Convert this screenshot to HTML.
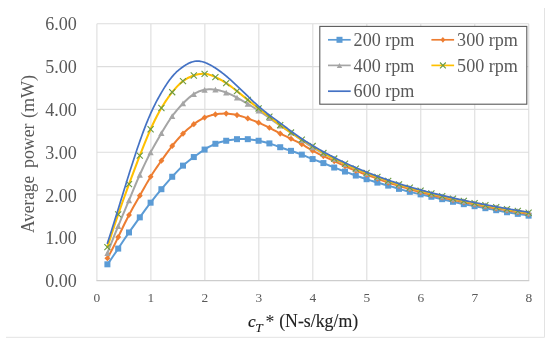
<!DOCTYPE html>
<html lang="en"><head><meta charset="utf-8"><title>Average power vs damping</title>
<style>html,body{margin:0;padding:0;background:#fff;}body{width:550px;height:343px;overflow:hidden;}</style></head>
<body>
<svg width="550" height="343" viewBox="0 0 550 343" style="display:block">
<rect x="0" y="0" width="550" height="343" fill="#ffffff"/>
<path d="M6 337.3 H544.5 V8" fill="none" stroke="#E3E3E3" stroke-width="1"/>
<path d="M96.90 23.81V280.55M150.88 23.81V280.55M204.86 23.81V280.55M258.84 23.81V280.55M312.82 23.81V280.55M366.80 23.81V280.55M420.78 23.81V280.55M474.76 23.81V280.55M528.74 23.81V280.55M96.90 237.76H528.74M96.90 194.97H528.74M96.90 152.18H528.74M96.90 109.39H528.74M96.90 66.60H528.74M96.90 23.81H528.74" fill="none" stroke="#DDDDDD" stroke-width="1.1"/>
<path d="M96.40 280.55H529.24" fill="none" stroke="#CDCDCD" stroke-width="1.25"/>
<polyline points="107.40,264.31 109.56,261.30 111.72,258.20 113.88,255.04 116.04,251.82 118.20,248.58 120.36,245.32 122.52,242.06 124.68,238.82 126.84,235.62 129.00,232.46 131.16,229.37 133.32,226.33 135.48,223.33 137.64,220.35 139.80,217.37 141.96,214.39 144.12,211.41 146.28,208.45 148.44,205.53 150.60,202.67 152.76,199.86 154.92,197.12 157.08,194.43 159.24,191.80 161.40,189.20 163.56,186.64 165.72,184.12 167.88,181.63 170.04,179.18 172.20,176.76 174.36,174.38 176.52,172.06 178.68,169.82 180.84,167.67 183.00,165.64 185.16,163.75 187.32,161.96 189.48,160.27 191.64,158.64 193.80,157.05 195.96,155.49 198.12,153.94 200.28,152.44 202.44,150.98 204.60,149.57 206.76,148.23 208.92,146.96 211.08,145.80 213.24,144.74 215.40,143.80 217.56,143.00 219.72,142.31 221.88,141.73 224.04,141.22 226.20,140.76 228.36,140.35 230.52,139.98 232.68,139.66 234.84,139.39 237.00,139.18 239.16,139.04 241.32,138.97 243.48,138.97 245.64,139.04 247.80,139.18 249.96,139.39 252.12,139.66 254.28,139.99 256.44,140.36 258.60,140.76 260.76,141.20 262.92,141.68 265.08,142.20 267.24,142.78 269.40,143.41 271.56,144.12 273.72,144.87 275.88,145.65 278.04,146.44 280.20,147.22 282.36,147.98 284.52,148.71 286.68,149.43 288.84,150.14 291.00,150.85 293.16,151.57 295.32,152.30 297.48,153.05 299.64,153.84 301.80,154.66 303.96,155.52 306.12,156.41 308.28,157.31 310.44,158.20 312.60,159.06 314.76,159.88 316.92,160.68 319.08,161.46 321.24,162.26 323.40,163.08 325.56,163.94 327.72,164.84 329.88,165.75 332.04,166.65 334.20,167.53 336.36,168.37 338.52,169.18 340.68,169.97 342.84,170.75 345.00,171.54 347.16,172.35 349.32,173.16 351.48,173.98 353.64,174.78 355.80,175.56 357.96,176.32 360.12,177.06 362.28,177.78 364.44,178.49 366.60,179.20 368.76,179.90 370.92,180.61 373.08,181.30 375.24,181.97 377.40,182.62 379.56,183.23 381.72,183.83 383.88,184.41 386.04,185.00 388.20,185.61 390.36,186.24 392.52,186.89 394.68,187.55 396.84,188.21 399.00,188.86 401.16,189.50 403.32,190.11 405.48,190.71 407.64,191.29 409.80,191.85 411.96,192.38 414.12,192.90 416.28,193.40 418.44,193.89 420.60,194.37 422.76,194.86 424.92,195.34 427.08,195.82 429.24,196.29 431.40,196.77 433.56,197.24 435.72,197.71 437.88,198.18 440.04,198.66 442.20,199.16 444.36,199.67 446.52,200.19 448.68,200.72 450.84,201.25 453.00,201.77 455.16,202.28 457.32,202.77 459.48,203.26 461.64,203.72 463.80,204.16 465.96,204.59 468.12,204.99 470.28,205.39 472.44,205.78 474.60,206.17 476.76,206.57 478.92,206.97 481.08,207.37 483.24,207.78 485.40,208.18 487.56,208.58 489.72,208.98 491.88,209.37 494.04,209.78 496.20,210.19 498.36,210.61 500.52,211.04 502.68,211.45 504.84,211.86 507.00,212.24 509.16,212.60 511.32,212.93 513.48,213.25 515.64,213.56 517.80,213.87 519.96,214.18 522.12,214.51 524.28,214.86 526.44,215.24 528.60,215.66" fill="none" stroke="#5B9BD5" stroke-width="2.0" stroke-linejoin="round" stroke-linecap="round"/>
<rect x="104.40" y="261.31" width="6.00" height="6.00" fill="#5B9BD5"/><rect x="115.20" y="245.58" width="6.00" height="6.00" fill="#5B9BD5"/><rect x="126.00" y="229.46" width="6.00" height="6.00" fill="#5B9BD5"/><rect x="136.80" y="214.37" width="6.00" height="6.00" fill="#5B9BD5"/><rect x="147.60" y="199.67" width="6.00" height="6.00" fill="#5B9BD5"/><rect x="158.40" y="186.20" width="6.00" height="6.00" fill="#5B9BD5"/><rect x="169.20" y="173.76" width="6.00" height="6.00" fill="#5B9BD5"/><rect x="180.00" y="162.64" width="6.00" height="6.00" fill="#5B9BD5"/><rect x="190.80" y="154.05" width="6.00" height="6.00" fill="#5B9BD5"/><rect x="201.60" y="146.57" width="6.00" height="6.00" fill="#5B9BD5"/><rect x="212.40" y="140.80" width="6.00" height="6.00" fill="#5B9BD5"/><rect x="223.20" y="137.76" width="6.00" height="6.00" fill="#5B9BD5"/><rect x="234.00" y="136.18" width="6.00" height="6.00" fill="#5B9BD5"/><rect x="244.80" y="136.18" width="6.00" height="6.00" fill="#5B9BD5"/><rect x="255.60" y="137.76" width="6.00" height="6.00" fill="#5B9BD5"/><rect x="266.40" y="140.41" width="6.00" height="6.00" fill="#5B9BD5"/><rect x="277.20" y="144.22" width="6.00" height="6.00" fill="#5B9BD5"/><rect x="288.00" y="147.85" width="6.00" height="6.00" fill="#5B9BD5"/><rect x="298.80" y="151.66" width="6.00" height="6.00" fill="#5B9BD5"/><rect x="309.60" y="156.06" width="6.00" height="6.00" fill="#5B9BD5"/><rect x="320.40" y="160.08" width="6.00" height="6.00" fill="#5B9BD5"/><rect x="331.20" y="164.53" width="6.00" height="6.00" fill="#5B9BD5"/><rect x="342.00" y="168.54" width="6.00" height="6.00" fill="#5B9BD5"/><rect x="352.80" y="172.56" width="6.00" height="6.00" fill="#5B9BD5"/><rect x="363.60" y="176.20" width="6.00" height="6.00" fill="#5B9BD5"/><rect x="374.40" y="179.62" width="6.00" height="6.00" fill="#5B9BD5"/><rect x="385.20" y="182.61" width="6.00" height="6.00" fill="#5B9BD5"/><rect x="396.00" y="185.86" width="6.00" height="6.00" fill="#5B9BD5"/><rect x="406.80" y="188.85" width="6.00" height="6.00" fill="#5B9BD5"/><rect x="417.60" y="191.37" width="6.00" height="6.00" fill="#5B9BD5"/><rect x="428.40" y="193.77" width="6.00" height="6.00" fill="#5B9BD5"/><rect x="439.20" y="196.16" width="6.00" height="6.00" fill="#5B9BD5"/><rect x="450.00" y="198.77" width="6.00" height="6.00" fill="#5B9BD5"/><rect x="460.80" y="201.16" width="6.00" height="6.00" fill="#5B9BD5"/><rect x="471.60" y="203.17" width="6.00" height="6.00" fill="#5B9BD5"/><rect x="482.40" y="205.18" width="6.00" height="6.00" fill="#5B9BD5"/><rect x="493.20" y="207.19" width="6.00" height="6.00" fill="#5B9BD5"/><rect x="504.00" y="209.24" width="6.00" height="6.00" fill="#5B9BD5"/><rect x="514.80" y="210.87" width="6.00" height="6.00" fill="#5B9BD5"/><rect x="525.60" y="212.66" width="6.00" height="6.00" fill="#5B9BD5"/>
<polyline points="107.40,258.24 109.56,254.36 111.72,250.26 113.88,245.98 116.04,241.57 118.20,237.08 120.36,232.55 122.52,228.03 124.68,223.56 126.84,219.20 129.00,214.98 131.16,210.94 133.32,207.03 135.48,203.22 137.64,199.45 139.80,195.66 141.96,191.81 144.12,187.95 146.28,184.12 148.44,180.38 150.60,176.76 152.76,173.31 154.92,170.01 157.08,166.82 159.24,163.71 161.40,160.64 163.56,157.60 165.72,154.58 167.88,151.62 170.04,148.73 172.20,145.94 174.36,143.25 176.52,140.68 178.68,138.23 180.84,135.89 183.00,133.67 185.16,131.56 187.32,129.56 189.48,127.68 191.64,125.90 193.80,124.22 195.96,122.64 198.12,121.18 200.28,119.84 202.44,118.64 204.60,117.59 206.76,116.70 208.92,115.96 211.08,115.34 213.24,114.84 215.40,114.43 217.56,114.10 219.72,113.85 221.88,113.69 224.04,113.61 226.20,113.62 228.36,113.72 230.52,113.91 232.68,114.19 234.84,114.56 237.00,115.03 239.16,115.59 241.32,116.22 243.48,116.92 245.64,117.67 247.80,118.45 249.96,119.25 252.12,120.07 254.28,120.91 256.44,121.78 258.60,122.68 260.76,123.61 262.92,124.58 265.08,125.58 267.24,126.63 269.40,127.73 271.56,128.87 273.72,130.04 275.88,131.22 278.04,132.40 280.20,133.54 282.36,134.64 284.52,135.69 286.68,136.72 288.84,137.74 291.00,138.75 293.16,139.78 295.32,140.83 297.48,141.91 299.64,143.04 301.80,144.23 303.96,145.48 306.12,146.78 308.28,148.09 310.44,149.39 312.60,150.64 314.76,151.82 316.92,152.94 319.08,154.02 321.24,155.05 323.40,156.07 325.56,157.07 327.72,158.07 329.88,159.07 332.04,160.07 334.20,161.07 336.36,162.08 338.52,163.10 340.68,164.12 342.84,165.12 345.00,166.11 347.16,167.09 349.32,168.03 351.48,168.96 353.64,169.86 355.80,170.73 357.96,171.58 360.12,172.40 362.28,173.20 364.44,173.98 366.60,174.75 368.76,175.51 370.92,176.27 373.08,177.03 375.24,177.80 377.40,178.60 379.56,179.42 381.72,180.25 383.88,181.07 386.04,181.87 388.20,182.62 390.36,183.31 392.52,183.95 394.68,184.57 396.84,185.19 399.00,185.82 401.16,186.49 403.32,187.18 405.48,187.88 407.64,188.57 409.80,189.24 411.96,189.89 414.12,190.50 416.28,191.10 418.44,191.67 420.60,192.24 422.76,192.79 424.92,193.34 427.08,193.89 429.24,194.42 431.40,194.95 433.56,195.48 435.72,196.00 437.88,196.51 440.04,197.02 442.20,197.52 444.36,198.02 446.52,198.51 448.68,198.99 450.84,199.47 453.00,199.95 455.16,200.42 457.32,200.88 459.48,201.34 461.64,201.79 463.80,202.24 465.96,202.69 468.12,203.13 470.28,203.56 472.44,203.99 474.60,204.42 476.76,204.84 478.92,205.26 481.08,205.67 483.24,206.08 485.40,206.48 487.56,206.89 489.72,207.28 491.88,207.68 494.04,208.07 496.20,208.45 498.36,208.83 500.52,209.21 502.68,209.59 504.84,209.96 507.00,210.33 509.16,210.70 511.32,211.06 513.48,211.42 515.64,211.78 517.80,212.13 519.96,212.48 522.12,212.83 524.28,213.18 526.44,213.52 528.60,213.87" fill="none" stroke="#ED7D31" stroke-width="2.0" stroke-linejoin="round" stroke-linecap="round"/>
<path d="M107.40 255.14L110.34 258.24L107.40 261.34L104.45 258.24Z" fill="#ED7D31"/><path d="M118.20 233.98L121.14 237.08L118.20 240.18L115.25 237.08Z" fill="#ED7D31"/><path d="M129.00 211.88L131.94 214.98L129.00 218.08L126.06 214.98Z" fill="#ED7D31"/><path d="M139.80 192.56L142.75 195.66L139.80 198.76L136.86 195.66Z" fill="#ED7D31"/><path d="M150.60 173.66L153.54 176.76L150.60 179.86L147.66 176.76Z" fill="#ED7D31"/><path d="M161.40 157.54L164.34 160.64L161.40 163.74L158.45 160.64Z" fill="#ED7D31"/><path d="M172.20 142.84L175.14 145.94L172.20 149.04L169.25 145.94Z" fill="#ED7D31"/><path d="M183.00 130.57L185.94 133.67L183.00 136.77L180.06 133.67Z" fill="#ED7D31"/><path d="M193.80 121.12L196.75 124.22L193.80 127.32L190.86 124.22Z" fill="#ED7D31"/><path d="M204.60 114.49L207.54 117.59L204.60 120.69L201.66 117.59Z" fill="#ED7D31"/><path d="M215.40 111.33L218.34 114.43L215.40 117.53L212.46 114.43Z" fill="#ED7D31"/><path d="M226.20 110.52L229.14 113.62L226.20 116.72L223.25 113.62Z" fill="#ED7D31"/><path d="M237.00 111.93L239.94 115.03L237.00 118.13L234.06 115.03Z" fill="#ED7D31"/><path d="M247.80 115.35L250.74 118.45L247.80 121.55L244.85 118.45Z" fill="#ED7D31"/><path d="M258.60 119.58L261.55 122.68L258.60 125.78L255.66 122.68Z" fill="#ED7D31"/><path d="M269.40 124.63L272.34 127.73L269.40 130.83L266.45 127.73Z" fill="#ED7D31"/><path d="M280.20 130.44L283.14 133.54L280.20 136.64L277.25 133.54Z" fill="#ED7D31"/><path d="M291.00 135.65L293.94 138.75L291.00 141.85L288.06 138.75Z" fill="#ED7D31"/><path d="M301.80 141.13L304.74 144.23L301.80 147.33L298.85 144.23Z" fill="#ED7D31"/><path d="M312.60 147.54L315.55 150.64L312.60 153.74L309.66 150.64Z" fill="#ED7D31"/><path d="M323.40 152.97L326.34 156.07L323.40 159.17L320.45 156.07Z" fill="#ED7D31"/><path d="M334.20 157.97L337.15 161.07L334.20 164.17L331.26 161.07Z" fill="#ED7D31"/><path d="M345.00 163.01L347.94 166.11L345.00 169.21L342.06 166.11Z" fill="#ED7D31"/><path d="M355.80 167.63L358.74 170.73L355.80 173.83L352.85 170.73Z" fill="#ED7D31"/><path d="M366.60 171.65L369.55 174.75L366.60 177.85L363.66 174.75Z" fill="#ED7D31"/><path d="M377.40 175.50L380.34 178.60L377.40 181.70L374.45 178.60Z" fill="#ED7D31"/><path d="M388.20 179.52L391.15 182.62L388.20 185.72L385.26 182.62Z" fill="#ED7D31"/><path d="M399.00 182.72L401.94 185.82L399.00 188.92L396.06 185.82Z" fill="#ED7D31"/><path d="M409.80 186.14L412.74 189.24L409.80 192.34L406.85 189.24Z" fill="#ED7D31"/><path d="M420.60 189.14L423.55 192.24L420.60 195.34L417.66 192.24Z" fill="#ED7D31"/><path d="M431.40 191.85L434.34 194.95L431.40 198.05L428.45 194.95Z" fill="#ED7D31"/><path d="M442.20 194.42L445.15 197.52L442.20 200.62L439.26 197.52Z" fill="#ED7D31"/><path d="M453.00 196.85L455.94 199.95L453.00 203.05L450.06 199.95Z" fill="#ED7D31"/><path d="M463.80 199.14L466.74 202.24L463.80 205.34L460.85 202.24Z" fill="#ED7D31"/><path d="M474.60 201.32L477.55 204.42L474.60 207.52L471.66 204.42Z" fill="#ED7D31"/><path d="M485.40 203.38L488.34 206.48L485.40 209.58L482.45 206.48Z" fill="#ED7D31"/><path d="M496.20 205.35L499.15 208.45L496.20 211.55L493.26 208.45Z" fill="#ED7D31"/><path d="M507.00 207.23L509.94 210.33L507.00 213.43L504.06 210.33Z" fill="#ED7D31"/><path d="M517.80 209.03L520.75 212.13L517.80 215.23L514.85 212.13Z" fill="#ED7D31"/><path d="M528.60 210.77L531.55 213.87L528.60 216.97L525.65 213.87Z" fill="#ED7D31"/>
<polyline points="107.40,253.20 109.56,247.57 111.72,242.06 113.88,236.66 116.04,231.34 118.20,226.09 120.36,220.90 122.52,215.73 124.68,210.59 126.84,205.44 129.00,200.27 131.16,195.08 133.32,189.89 135.48,184.75 137.64,179.69 139.80,174.75 141.96,169.97 144.12,165.34 146.28,160.88 148.44,156.56 150.60,152.39 152.76,148.37 154.92,144.46 157.08,140.66 159.24,136.92 161.40,133.24 163.56,129.60 165.72,126.02 167.88,122.56 170.04,119.25 172.20,116.14 174.36,113.26 176.52,110.59 178.68,108.09 180.84,105.73 183.00,103.49 185.16,101.33 187.32,99.28 189.48,97.37 191.64,95.64 193.80,94.12 195.96,92.84 198.12,91.79 200.28,90.94 202.44,90.29 204.60,89.81 206.76,89.48 208.92,89.31 211.08,89.28 213.24,89.39 215.40,89.64 217.56,90.01 219.72,90.50 221.88,91.10 224.04,91.79 226.20,92.58 228.36,93.46 230.52,94.40 232.68,95.42 234.84,96.50 237.00,97.63 239.16,98.81 241.32,100.03 243.48,101.29 245.64,102.57 247.80,103.87 249.96,105.18 252.12,106.51 254.28,107.86 256.44,109.23 258.60,110.63 260.76,112.05 262.92,113.51 265.08,114.99 267.24,116.49 269.40,118.02 271.56,119.57 273.72,121.12 275.88,122.66 278.04,124.19 280.20,125.67 282.36,127.11 284.52,128.52 286.68,129.91 288.84,131.31 291.00,132.73 293.16,134.18 295.32,135.66 297.48,137.15 299.64,138.66 301.80,140.17 303.96,141.66 306.12,143.13 308.28,144.58 310.44,145.98 312.60,147.35 314.76,148.66 316.92,149.92 319.08,151.14 321.24,152.33 323.40,153.48 325.56,154.60 327.72,155.70 329.88,156.78 332.04,157.85 334.20,158.92 336.36,159.97 338.52,161.03 340.68,162.07 342.84,163.10 345.00,164.11 347.16,165.10 349.32,166.08 351.48,167.03 353.64,167.97 355.80,168.88 357.96,169.78 360.12,170.66 362.28,171.51 364.44,172.36 366.60,173.19 368.76,174.00 370.92,174.81 373.08,175.61 375.24,176.41 377.40,177.21 379.56,178.02 381.72,178.82 383.88,179.61 386.04,180.38 388.20,181.13 390.36,181.85 392.52,182.54 394.68,183.21 396.84,183.88 399.00,184.55 401.16,185.22 403.32,185.90 405.48,186.57 407.64,187.23 409.80,187.88 411.96,188.51 414.12,189.13 416.28,189.72 418.44,190.31 420.60,190.88 422.76,191.45 424.92,192.01 427.08,192.57 429.24,193.11 431.40,193.66 433.56,194.19 435.72,194.73 437.88,195.25 440.04,195.78 442.20,196.29 444.36,196.80 446.52,197.31 448.68,197.81 450.84,198.30 453.00,198.78 455.16,199.26 457.32,199.73 459.48,200.20 461.64,200.66 463.80,201.12 465.96,201.56 468.12,202.01 470.28,202.45 472.44,202.88 474.60,203.32 476.76,203.74 478.92,204.17 481.08,204.59 483.24,205.00 485.40,205.41 487.56,205.82 489.72,206.23 491.88,206.63 494.04,207.02 496.20,207.42 498.36,207.81 500.52,208.19 502.68,208.57 504.84,208.95 507.00,209.32 509.16,209.70 511.32,210.06 513.48,210.43 515.64,210.79 517.80,211.15 519.96,211.50 522.12,211.85 524.28,212.20 526.44,212.55 528.60,212.89" fill="none" stroke="#A5A5A5" stroke-width="2.0" stroke-linejoin="round" stroke-linecap="round"/>
<path d="M107.40 250.31L110.50 256.08L104.30 256.08Z" fill="#A5A5A5"/><path d="M118.20 223.21L121.30 228.98L115.10 228.98Z" fill="#A5A5A5"/><path d="M129.00 197.39L132.10 203.16L125.90 203.16Z" fill="#A5A5A5"/><path d="M139.80 171.87L142.90 177.63L136.70 177.63Z" fill="#A5A5A5"/><path d="M150.60 149.51L153.70 155.28L147.50 155.28Z" fill="#A5A5A5"/><path d="M161.40 130.36L164.50 136.12L158.30 136.12Z" fill="#A5A5A5"/><path d="M172.20 113.26L175.30 119.02L169.10 119.02Z" fill="#A5A5A5"/><path d="M183.00 100.60L186.10 106.37L179.90 106.37Z" fill="#A5A5A5"/><path d="M193.80 91.24L196.90 97.01L190.70 97.01Z" fill="#A5A5A5"/><path d="M204.60 86.92L207.70 92.69L201.50 92.69Z" fill="#A5A5A5"/><path d="M215.40 86.75L218.50 92.52L212.30 92.52Z" fill="#A5A5A5"/><path d="M226.20 89.70L229.30 95.47L223.10 95.47Z" fill="#A5A5A5"/><path d="M237.00 94.75L240.10 100.51L233.90 100.51Z" fill="#A5A5A5"/><path d="M247.80 100.99L250.90 106.75L244.70 106.75Z" fill="#A5A5A5"/><path d="M258.60 107.74L261.70 113.51L255.50 113.51Z" fill="#A5A5A5"/><path d="M269.40 115.14L272.50 120.90L266.30 120.90Z" fill="#A5A5A5"/><path d="M280.20 122.79L283.30 128.56L277.10 128.56Z" fill="#A5A5A5"/><path d="M291.00 129.84L294.10 135.61L287.90 135.61Z" fill="#A5A5A5"/><path d="M301.80 137.28L304.90 143.05L298.70 143.05Z" fill="#A5A5A5"/><path d="M312.60 144.46L315.70 150.23L309.50 150.23Z" fill="#A5A5A5"/><path d="M323.40 150.60L326.50 156.36L320.30 156.36Z" fill="#A5A5A5"/><path d="M334.20 156.03L337.30 161.80L331.10 161.80Z" fill="#A5A5A5"/><path d="M345.00 161.23L348.10 166.99L341.90 166.99Z" fill="#A5A5A5"/><path d="M355.80 166.00L358.90 171.77L352.70 171.77Z" fill="#A5A5A5"/><path d="M366.60 170.30L369.70 176.07L363.50 176.07Z" fill="#A5A5A5"/><path d="M377.40 174.33L380.50 180.10L374.30 180.10Z" fill="#A5A5A5"/><path d="M388.20 178.25L391.30 184.01L385.10 184.01Z" fill="#A5A5A5"/><path d="M399.00 181.67L402.10 187.43L395.90 187.43Z" fill="#A5A5A5"/><path d="M409.80 185.00L412.90 190.77L406.70 190.77Z" fill="#A5A5A5"/><path d="M420.60 188.00L423.70 193.77L417.50 193.77Z" fill="#A5A5A5"/><path d="M431.40 190.77L434.50 196.54L428.30 196.54Z" fill="#A5A5A5"/><path d="M442.20 193.41L445.30 199.18L439.10 199.18Z" fill="#A5A5A5"/><path d="M453.00 195.90L456.10 201.67L449.90 201.67Z" fill="#A5A5A5"/><path d="M463.80 198.23L466.90 204.00L460.70 204.00Z" fill="#A5A5A5"/><path d="M474.60 200.43L477.70 206.20L471.50 206.20Z" fill="#A5A5A5"/><path d="M485.40 202.53L488.50 208.30L482.30 208.30Z" fill="#A5A5A5"/><path d="M496.20 204.53L499.30 210.30L493.10 210.30Z" fill="#A5A5A5"/><path d="M507.00 206.44L510.10 212.21L503.90 212.21Z" fill="#A5A5A5"/><path d="M517.80 208.26L520.90 214.03L514.70 214.03Z" fill="#A5A5A5"/><path d="M528.60 210.01L531.70 215.77L525.50 215.77Z" fill="#A5A5A5"/>
<polyline points="107.40,247.17 109.56,240.36 111.72,233.68 113.88,227.13 116.04,220.70 118.20,214.38 120.36,208.16 122.52,202.03 124.68,196.00 126.84,190.04 129.00,184.16 131.16,178.34 133.32,172.58 135.48,166.88 137.64,161.23 139.80,155.64 141.96,150.10 144.12,144.65 146.28,139.33 148.44,134.17 150.60,129.22 152.76,124.51 154.92,120.04 157.08,115.80 159.24,111.80 161.40,108.02 163.56,104.46 165.72,101.11 167.88,97.96 170.04,94.99 172.20,92.20 174.36,89.57 176.52,87.12 178.68,84.88 180.84,82.86 183.00,81.09 185.16,79.57 187.32,78.29 189.48,77.21 191.64,76.30 193.80,75.53 195.96,74.86 198.12,74.33 200.28,73.95 202.44,73.77 204.60,73.82 206.76,74.11 208.92,74.62 211.08,75.31 213.24,76.16 215.40,77.11 217.56,78.15 219.72,79.26 221.88,80.46 224.04,81.75 226.20,83.14 228.36,84.62 230.52,86.18 232.68,87.80 234.84,89.47 237.00,91.17 239.16,92.89 241.32,94.62 243.48,96.36 245.64,98.11 247.80,99.85 249.96,101.60 252.12,103.34 254.28,105.06 256.44,106.77 258.60,108.45 260.76,110.10 262.92,111.73 265.08,113.35 267.24,114.99 269.40,116.65 271.56,118.35 273.72,120.06 275.88,121.76 278.04,123.44 280.20,125.07 282.36,126.65 284.52,128.16 286.68,129.64 288.84,131.10 291.00,132.56 293.16,134.01 295.32,135.47 297.48,136.90 299.64,138.30 301.80,139.65 303.96,140.95 306.12,142.21 308.28,143.46 310.44,144.74 312.60,146.06 314.76,147.46 316.92,148.89 319.08,150.32 321.24,151.72 323.40,153.05 325.56,154.27 327.72,155.41 329.88,156.48 332.04,157.52 334.20,158.56 336.36,159.60 338.52,160.65 340.68,161.70 342.84,162.75 345.00,163.78 347.16,164.78 349.32,165.76 351.48,166.72 353.64,167.66 355.80,168.58 357.96,169.48 360.12,170.36 362.28,171.23 364.44,172.09 366.60,172.92 368.76,173.75 370.92,174.57 373.08,175.38 375.24,176.18 377.40,176.98 379.56,177.78 381.72,178.58 383.88,179.37 386.04,180.13 388.20,180.88 390.36,181.60 392.52,182.30 394.68,182.99 396.84,183.66 399.00,184.34 401.16,185.01 403.32,185.68 405.48,186.35 407.64,187.01 409.80,187.66 411.96,188.28 414.12,188.90 416.28,189.49 418.44,190.08 420.60,190.66 422.76,191.23 424.92,191.79 427.08,192.35 429.24,192.90 431.40,193.44 433.56,193.98 435.72,194.51 437.88,195.04 440.04,195.57 442.20,196.09 444.36,196.60 446.52,197.11 448.68,197.61 450.84,198.10 453.00,198.59 455.16,199.07 457.32,199.54 459.48,200.01 461.64,200.47 463.80,200.93 465.96,201.38 468.12,201.82 470.28,202.26 472.44,202.70 474.60,203.13 476.76,203.56 478.92,203.98 481.08,204.41 483.24,204.82 485.40,205.24 487.56,205.65 489.72,206.05 491.88,206.45 494.04,206.85 496.20,207.24 498.36,207.63 500.52,208.02 502.68,208.40 504.84,208.78 507.00,209.16 509.16,209.53 511.32,209.90 513.48,210.26 515.64,210.62 517.80,210.98 519.96,211.34 522.12,211.69 524.28,212.04 526.44,212.39 528.60,212.73" fill="none" stroke="#FFC000" stroke-width="2.05" stroke-linejoin="round" stroke-linecap="round"/>
<path d="M104.35 244.12L110.45 250.22M104.35 250.22L110.45 244.12" stroke="#6A9B44" stroke-width="1.1" fill="none"/><path d="M115.15 211.33L121.25 217.43M115.15 217.43L121.25 211.33" stroke="#6A9B44" stroke-width="1.1" fill="none"/><path d="M125.95 181.11L132.05 187.21M125.95 187.21L132.05 181.11" stroke="#6A9B44" stroke-width="1.1" fill="none"/><path d="M136.75 152.59L142.85 158.69M136.75 158.69L142.85 152.59" stroke="#6A9B44" stroke-width="1.1" fill="none"/><path d="M147.55 126.17L153.65 132.27M147.55 132.27L153.65 126.17" stroke="#6A9B44" stroke-width="1.1" fill="none"/><path d="M158.35 104.97L164.45 111.07M158.35 111.07L164.45 104.97" stroke="#6A9B44" stroke-width="1.1" fill="none"/><path d="M169.15 89.15L175.25 95.25M169.15 95.25L175.25 89.15" stroke="#6A9B44" stroke-width="1.1" fill="none"/><path d="M179.95 78.04L186.05 84.14M179.95 84.14L186.05 78.04" stroke="#6A9B44" stroke-width="1.1" fill="none"/><path d="M190.75 72.48L196.85 78.58M190.75 78.58L196.85 72.48" stroke="#6A9B44" stroke-width="1.1" fill="none"/><path d="M201.55 70.77L207.65 76.87M201.55 76.87L207.65 70.77" stroke="#6A9B44" stroke-width="1.1" fill="none"/><path d="M212.35 74.06L218.45 80.16M212.35 80.16L218.45 74.06" stroke="#6A9B44" stroke-width="1.1" fill="none"/><path d="M223.15 80.09L229.25 86.19M223.15 86.19L229.25 80.09" stroke="#6A9B44" stroke-width="1.1" fill="none"/><path d="M233.95 88.12L240.05 94.22M233.95 94.22L240.05 88.12" stroke="#6A9B44" stroke-width="1.1" fill="none"/><path d="M244.75 96.80L250.85 102.90M244.75 102.90L250.85 96.80" stroke="#6A9B44" stroke-width="1.1" fill="none"/><path d="M255.55 105.40L261.65 111.50M255.55 111.50L261.65 105.40" stroke="#6A9B44" stroke-width="1.1" fill="none"/><path d="M266.35 113.60L272.45 119.70M266.35 119.70L272.45 113.60" stroke="#6A9B44" stroke-width="1.1" fill="none"/><path d="M277.15 122.02L283.25 128.12M277.15 128.12L283.25 122.02" stroke="#6A9B44" stroke-width="1.1" fill="none"/><path d="M287.95 129.51L294.05 135.61M287.95 135.61L294.05 129.51" stroke="#6A9B44" stroke-width="1.1" fill="none"/><path d="M298.75 136.60L304.85 142.70M298.75 142.70L304.85 136.60" stroke="#6A9B44" stroke-width="1.1" fill="none"/><path d="M309.55 143.01L315.65 149.12M309.55 149.12L315.65 143.01" stroke="#6A9B44" stroke-width="1.1" fill="none"/><path d="M320.35 150.00L326.45 156.10M320.35 156.10L326.45 150.00" stroke="#6A9B44" stroke-width="1.1" fill="none"/><path d="M331.15 155.51L337.25 161.61M331.15 161.61L337.25 155.51" stroke="#6A9B44" stroke-width="1.1" fill="none"/><path d="M341.95 160.73L348.05 166.83M341.95 166.83L348.05 160.73" stroke="#6A9B44" stroke-width="1.1" fill="none"/><path d="M352.75 165.53L358.85 171.63M352.75 171.63L358.85 165.53" stroke="#6A9B44" stroke-width="1.1" fill="none"/><path d="M363.55 169.87L369.65 175.97M363.55 175.97L369.65 169.87" stroke="#6A9B44" stroke-width="1.1" fill="none"/><path d="M374.35 173.93L380.45 180.03M374.35 180.03L380.45 173.93" stroke="#6A9B44" stroke-width="1.1" fill="none"/><path d="M385.15 177.83L391.25 183.93M385.15 183.93L391.25 177.83" stroke="#6A9B44" stroke-width="1.1" fill="none"/><path d="M395.95 181.29L402.05 187.39M395.95 187.39L402.05 181.29" stroke="#6A9B44" stroke-width="1.1" fill="none"/><path d="M406.75 184.61L412.85 190.71M406.75 190.71L412.85 184.61" stroke="#6A9B44" stroke-width="1.1" fill="none"/><path d="M417.55 187.61L423.65 193.71M417.55 193.71L423.65 187.61" stroke="#6A9B44" stroke-width="1.1" fill="none"/><path d="M428.35 190.39L434.45 196.49M428.35 196.49L434.45 190.39" stroke="#6A9B44" stroke-width="1.1" fill="none"/><path d="M439.15 193.04L445.25 199.14M439.15 199.14L445.25 193.04" stroke="#6A9B44" stroke-width="1.1" fill="none"/><path d="M449.95 195.54L456.05 201.64M449.95 201.64L456.05 195.54" stroke="#6A9B44" stroke-width="1.1" fill="none"/><path d="M460.75 197.88L466.85 203.98M460.75 203.98L466.85 197.88" stroke="#6A9B44" stroke-width="1.1" fill="none"/><path d="M471.55 200.08L477.65 206.18M471.55 206.18L477.65 200.08" stroke="#6A9B44" stroke-width="1.1" fill="none"/><path d="M482.35 202.19L488.45 208.29M482.35 208.29L488.45 202.19" stroke="#6A9B44" stroke-width="1.1" fill="none"/><path d="M493.15 204.19L499.25 210.29M493.15 210.29L499.25 204.19" stroke="#6A9B44" stroke-width="1.1" fill="none"/><path d="M503.95 206.11L510.05 212.21M503.95 212.21L510.05 206.11" stroke="#6A9B44" stroke-width="1.1" fill="none"/><path d="M514.75 207.93L520.85 214.03M514.75 214.03L520.85 207.93" stroke="#6A9B44" stroke-width="1.1" fill="none"/><path d="M525.55 209.68L531.65 215.78M525.55 215.78L531.65 209.68" stroke="#6A9B44" stroke-width="1.1" fill="none"/>
<polyline points="107.40,243.19 108.46,239.98 109.51,236.74 110.57,233.46 111.62,230.16 112.68,226.83 113.73,223.47 114.79,220.10 115.85,216.71 116.90,213.31 117.96,209.89 119.01,206.47 120.07,203.03 121.12,199.60 122.18,196.17 123.23,192.73 124.29,189.31 125.35,185.89 126.40,182.48 127.46,179.08 128.51,175.71 129.57,172.34 130.62,169.01 131.68,165.69 132.74,162.41 133.79,159.15 134.85,155.93 135.90,152.74 136.96,149.59 138.01,146.48 139.07,143.41 140.12,140.40 141.18,137.43 142.24,134.51 143.29,131.65 144.35,128.85 145.40,126.10 146.46,123.42 147.51,120.81 148.57,118.26 149.63,115.79 150.68,113.39 151.74,111.07 152.79,108.82 153.85,106.64 154.90,104.52 155.96,102.46 157.02,100.46 158.07,98.50 159.13,96.60 160.18,94.73 161.24,92.91 162.29,91.11 163.35,89.36 164.40,87.64 165.46,85.97 166.52,84.35 167.57,82.77 168.63,81.26 169.68,79.80 170.74,78.41 171.79,77.09 172.85,75.83 173.91,74.65 174.96,73.54 176.02,72.48 177.07,71.49 178.13,70.54 179.18,69.65 180.24,68.80 181.29,67.99 182.35,67.22 183.41,66.48 184.46,65.78 185.52,65.10 186.57,64.47 187.63,63.88 188.68,63.34 189.74,62.84 190.80,62.41 191.85,62.03 192.91,61.71 193.96,61.46 195.02,61.28 196.07,61.16 197.13,61.11 198.18,61.12 199.24,61.20 200.30,61.33 201.35,61.51 202.41,61.75 203.46,62.04 204.52,62.38 205.57,62.76 206.63,63.18 207.69,63.65 208.74,64.16 209.80,64.70 210.85,65.27 211.91,65.87 212.96,66.50 214.02,67.16 215.08,67.83 216.13,68.53 217.19,69.24 218.24,69.98 219.30,70.73 220.35,71.50 221.41,72.29 222.46,73.09 223.52,73.91 224.58,74.75 225.63,75.61 226.69,76.49 227.74,77.38 228.80,78.29 229.85,79.22 230.91,80.16 231.97,81.11 233.02,82.07 234.08,83.04 235.13,84.03 236.19,85.02 237.24,86.02 238.30,87.02 239.35,88.04 240.41,89.05 241.47,90.07 242.52,91.09 243.58,92.12 244.63,93.14 245.69,94.17 246.74,95.19 247.80,96.22 248.86,97.24 249.91,98.26 250.97,99.27 252.02,100.28 253.08,101.27 254.13,102.26 255.19,103.24 256.25,104.21 257.30,105.16 258.36,106.09 259.41,107.01 260.47,107.92 261.52,108.81 262.58,109.68 263.63,110.54 264.69,111.39 265.75,112.23 266.80,113.05 267.86,113.87 268.91,114.68 269.97,115.48 271.02,116.28 272.08,117.07 273.14,117.85 274.19,118.64 275.25,119.41 276.30,120.19 277.36,120.97 278.41,121.75 279.47,122.53 280.52,123.31 281.58,124.09 282.64,124.88 283.69,125.66 284.75,126.45 285.80,127.24 286.86,128.03 287.91,128.81 288.97,129.60 290.03,130.38 291.08,131.16 292.14,131.93 293.19,132.71 294.25,133.47 295.30,134.23 296.36,134.99 297.42,135.74 298.47,136.48 299.53,137.21 300.58,137.93 301.64,138.65 302.69,139.35 303.75,140.04 304.80,140.73 305.86,141.41 306.92,142.07 307.97,142.73 309.03,143.39 310.08,144.03 311.14,144.67 312.19,145.31 313.25,145.94 314.31,146.56 315.36,147.18 316.42,147.80 317.47,148.41 318.53,149.02 319.58,149.62 320.64,150.21 321.69,150.80 322.75,151.39 323.81,151.97 324.86,152.55 325.92,153.13 326.97,153.70 328.03,154.26 329.08,154.82 330.14,155.38 331.20,155.93 332.25,156.48 333.31,157.02 334.36,157.56 335.42,158.10 336.47,158.63 337.53,159.16 338.58,159.68 339.64,160.20 340.70,160.71 341.75,161.23 342.81,161.73 343.86,162.24 344.92,162.74 345.97,163.23 347.03,163.72 348.09,164.21 349.14,164.69 350.20,165.17 351.25,165.65 352.31,166.12 353.36,166.59 354.42,167.05 355.48,167.51 356.53,167.97 357.59,168.42 358.64,168.87 359.70,169.32 360.75,169.76 361.81,170.20 362.86,170.63 363.92,171.06 364.98,171.49 366.03,171.92 367.09,172.34 368.14,172.76 369.20,173.17 370.25,173.58 371.31,173.99 372.37,174.40 373.42,174.80 374.48,175.20 375.53,175.60 376.59,175.99 377.64,176.38 378.70,176.77 379.75,177.16 380.81,177.54 381.87,177.92 382.92,178.29 383.98,178.67 385.03,179.04 386.09,179.41 387.14,179.77 388.20,180.14 389.26,180.50 390.31,180.86 391.37,181.21 392.42,181.56 393.48,181.91 394.53,182.26 395.59,182.60 396.65,182.95 397.70,183.28 398.76,183.62 399.81,183.95 400.87,184.29 401.92,184.61 402.98,184.94 404.03,185.26 405.09,185.58 406.15,185.90 407.20,186.21 408.26,186.53 409.31,186.84 410.37,187.14 411.42,187.44 412.48,187.75 413.54,188.04 414.59,188.34 415.65,188.63 416.70,188.92 417.76,189.21 418.81,189.50 419.87,189.79 420.92,190.07 421.98,190.35 423.04,190.63 424.09,190.91 425.15,191.18 426.20,191.46 427.26,191.73 428.31,192.00 429.37,192.27 430.43,192.54 431.48,192.81 432.54,193.08 433.59,193.35 434.65,193.61 435.70,193.87 436.76,194.14 437.82,194.40 438.87,194.66 439.93,194.92 440.98,195.18 442.04,195.43 443.09,195.69 444.15,195.94 445.20,196.19 446.26,196.44 447.32,196.69 448.37,196.94 449.43,197.19 450.48,197.43 451.54,197.67 452.59,197.91 453.65,198.15 454.71,198.39 455.76,198.63 456.82,198.86 457.87,199.09 458.93,199.32 459.98,199.55 461.04,199.78 462.09,200.00 463.15,200.23 464.21,200.45 465.26,200.67 466.32,200.89 467.37,201.11 468.43,201.33 469.48,201.54 470.54,201.76 471.60,201.97 472.65,202.19 473.71,202.40 474.76,202.61 475.82,202.82 476.87,203.03 477.93,203.24 478.98,203.45 480.04,203.66 481.10,203.87 482.15,204.07 483.21,204.28 484.26,204.48 485.32,204.69 486.37,204.89 487.43,205.09 488.49,205.29 489.54,205.49 490.60,205.69 491.65,205.89 492.71,206.08 493.76,206.28 494.82,206.47 495.88,206.67 496.93,206.86 497.99,207.05 499.04,207.24 500.10,207.43 501.15,207.62 502.21,207.81 503.26,208.00 504.32,208.19 505.38,208.37 506.43,208.56 507.49,208.74 508.54,208.92 509.60,209.10 510.65,209.28 511.71,209.47 512.77,209.64 513.82,209.82 514.88,210.00 515.93,210.18 516.99,210.35 518.04,210.53 519.10,210.70 520.15,210.88 521.21,211.05 522.27,211.22 523.32,211.40 524.38,211.57 525.43,211.74 526.49,211.91 527.54,212.07 528.60,212.24" fill="none" stroke="#4472C4" stroke-width="1.7" stroke-linejoin="round" stroke-linecap="round"/>
<text x="76.9" y="287.10" text-anchor="end" font-family='"Liberation Serif", serif' font-size="18.1" fill="#595959">0.00</text>
<text x="76.9" y="244.31" text-anchor="end" font-family='"Liberation Serif", serif' font-size="18.1" fill="#595959">1.00</text>
<text x="76.9" y="201.52" text-anchor="end" font-family='"Liberation Serif", serif' font-size="18.1" fill="#595959">2.00</text>
<text x="76.9" y="158.73" text-anchor="end" font-family='"Liberation Serif", serif' font-size="18.1" fill="#595959">3.00</text>
<text x="76.9" y="115.94" text-anchor="end" font-family='"Liberation Serif", serif' font-size="18.1" fill="#595959">4.00</text>
<text x="76.9" y="73.15" text-anchor="end" font-family='"Liberation Serif", serif' font-size="18.1" fill="#595959">5.00</text>
<text x="76.9" y="30.36" text-anchor="end" font-family='"Liberation Serif", serif' font-size="18.1" fill="#595959">6.00</text>
<text x="96.90" y="301.8" text-anchor="middle" font-family='"Liberation Serif", serif' font-size="13.4" fill="#595959">0</text>
<text x="150.88" y="301.8" text-anchor="middle" font-family='"Liberation Serif", serif' font-size="13.4" fill="#595959">1</text>
<text x="204.86" y="301.8" text-anchor="middle" font-family='"Liberation Serif", serif' font-size="13.4" fill="#595959">2</text>
<text x="258.84" y="301.8" text-anchor="middle" font-family='"Liberation Serif", serif' font-size="13.4" fill="#595959">3</text>
<text x="312.82" y="301.8" text-anchor="middle" font-family='"Liberation Serif", serif' font-size="13.4" fill="#595959">4</text>
<text x="366.80" y="301.8" text-anchor="middle" font-family='"Liberation Serif", serif' font-size="13.4" fill="#595959">5</text>
<text x="420.78" y="301.8" text-anchor="middle" font-family='"Liberation Serif", serif' font-size="13.4" fill="#595959">6</text>
<text x="474.76" y="301.8" text-anchor="middle" font-family='"Liberation Serif", serif' font-size="13.4" fill="#595959">7</text>
<text x="528.74" y="301.8" text-anchor="middle" font-family='"Liberation Serif", serif' font-size="13.4" fill="#595959">8</text>
<text transform="translate(34.1 232.9) rotate(-90) scale(0.955 1)" font-family='"Liberation Serif", serif' font-size="18.05" fill="#595959">Average</text>
<text transform="translate(34.1 167.9) rotate(-90) scale(0.985 1)" font-family='"Liberation Serif", serif' font-size="18.05" fill="#595959">power</text>
<text transform="translate(34.1 118.1) rotate(-90) scale(1.0 1)" font-family='"Liberation Serif", serif' font-size="18.05" fill="#595959">(mW)</text>
<text x="248.0" y="327.1" font-family='"Liberation Serif", serif' font-size="17.2" font-style="italic" fill="#1a1a1a" stroke="#1a1a1a" stroke-width="0.18">c</text>
<text x="255.3" y="331.9" font-family='"Liberation Serif", serif' font-size="13.4" font-style="italic" fill="#1a1a1a" stroke="#1a1a1a" stroke-width="0.08">T</text>
<text x="265.6" y="327.6" font-family='"Liberation Serif", serif' font-size="17.8" fill="#222222">*</text>
<text x="279.2" y="327.4" font-family='"Liberation Serif", serif' font-size="17.8" fill="#222222" stroke="#222222" stroke-width="0.12">(N-s/kg/m)</text>
<rect x="319.8" y="26.4" width="207" height="77.8" fill="#ffffff" stroke="#595959" stroke-width="1.1"/>
<path d="M328.00 39.80H350.70" stroke="#5B9BD5" stroke-width="1.7" fill="none"/>
<rect x="336.50" y="36.80" width="6.00" height="6.00" fill="#5B9BD5"/>
<text x="353.6" y="46.00" font-family='"Liberation Serif", serif' font-size="18.1" fill="#595959">200 rpm</text>
<path d="M431.40 39.80H454.10" stroke="#ED7D31" stroke-width="1.7" fill="none"/>
<path d="M442.90 36.90L445.31 39.80L442.90 42.70L440.49 39.80Z" fill="#ED7D31"/>
<text x="457.1" y="46.00" font-family='"Liberation Serif", serif' font-size="18.1" fill="#595959">300 rpm</text>
<path d="M328.00 65.40H350.70" stroke="#A5A5A5" stroke-width="1.7" fill="none"/>
<path d="M339.50 62.89L342.20 67.91L336.80 67.91Z" fill="#A5A5A5"/>
<text x="353.6" y="71.60" font-family='"Liberation Serif", serif' font-size="18.1" fill="#595959">400 rpm</text>
<path d="M431.40 65.40H454.10" stroke="#FFC000" stroke-width="1.7" fill="none"/>
<path d="M440.00 62.50L445.80 68.30M440.00 68.30L445.80 62.50" stroke="#6A9B44" stroke-width="1.1" fill="none"/>
<text x="457.1" y="71.60" font-family='"Liberation Serif", serif' font-size="18.1" fill="#595959">500 rpm</text>
<path d="M328.00 91.20H350.70" stroke="#4472C4" stroke-width="1.7" fill="none"/>
<text x="353.6" y="97.40" font-family='"Liberation Serif", serif' font-size="18.1" fill="#595959">600 rpm</text>
</svg>
</body></html>
